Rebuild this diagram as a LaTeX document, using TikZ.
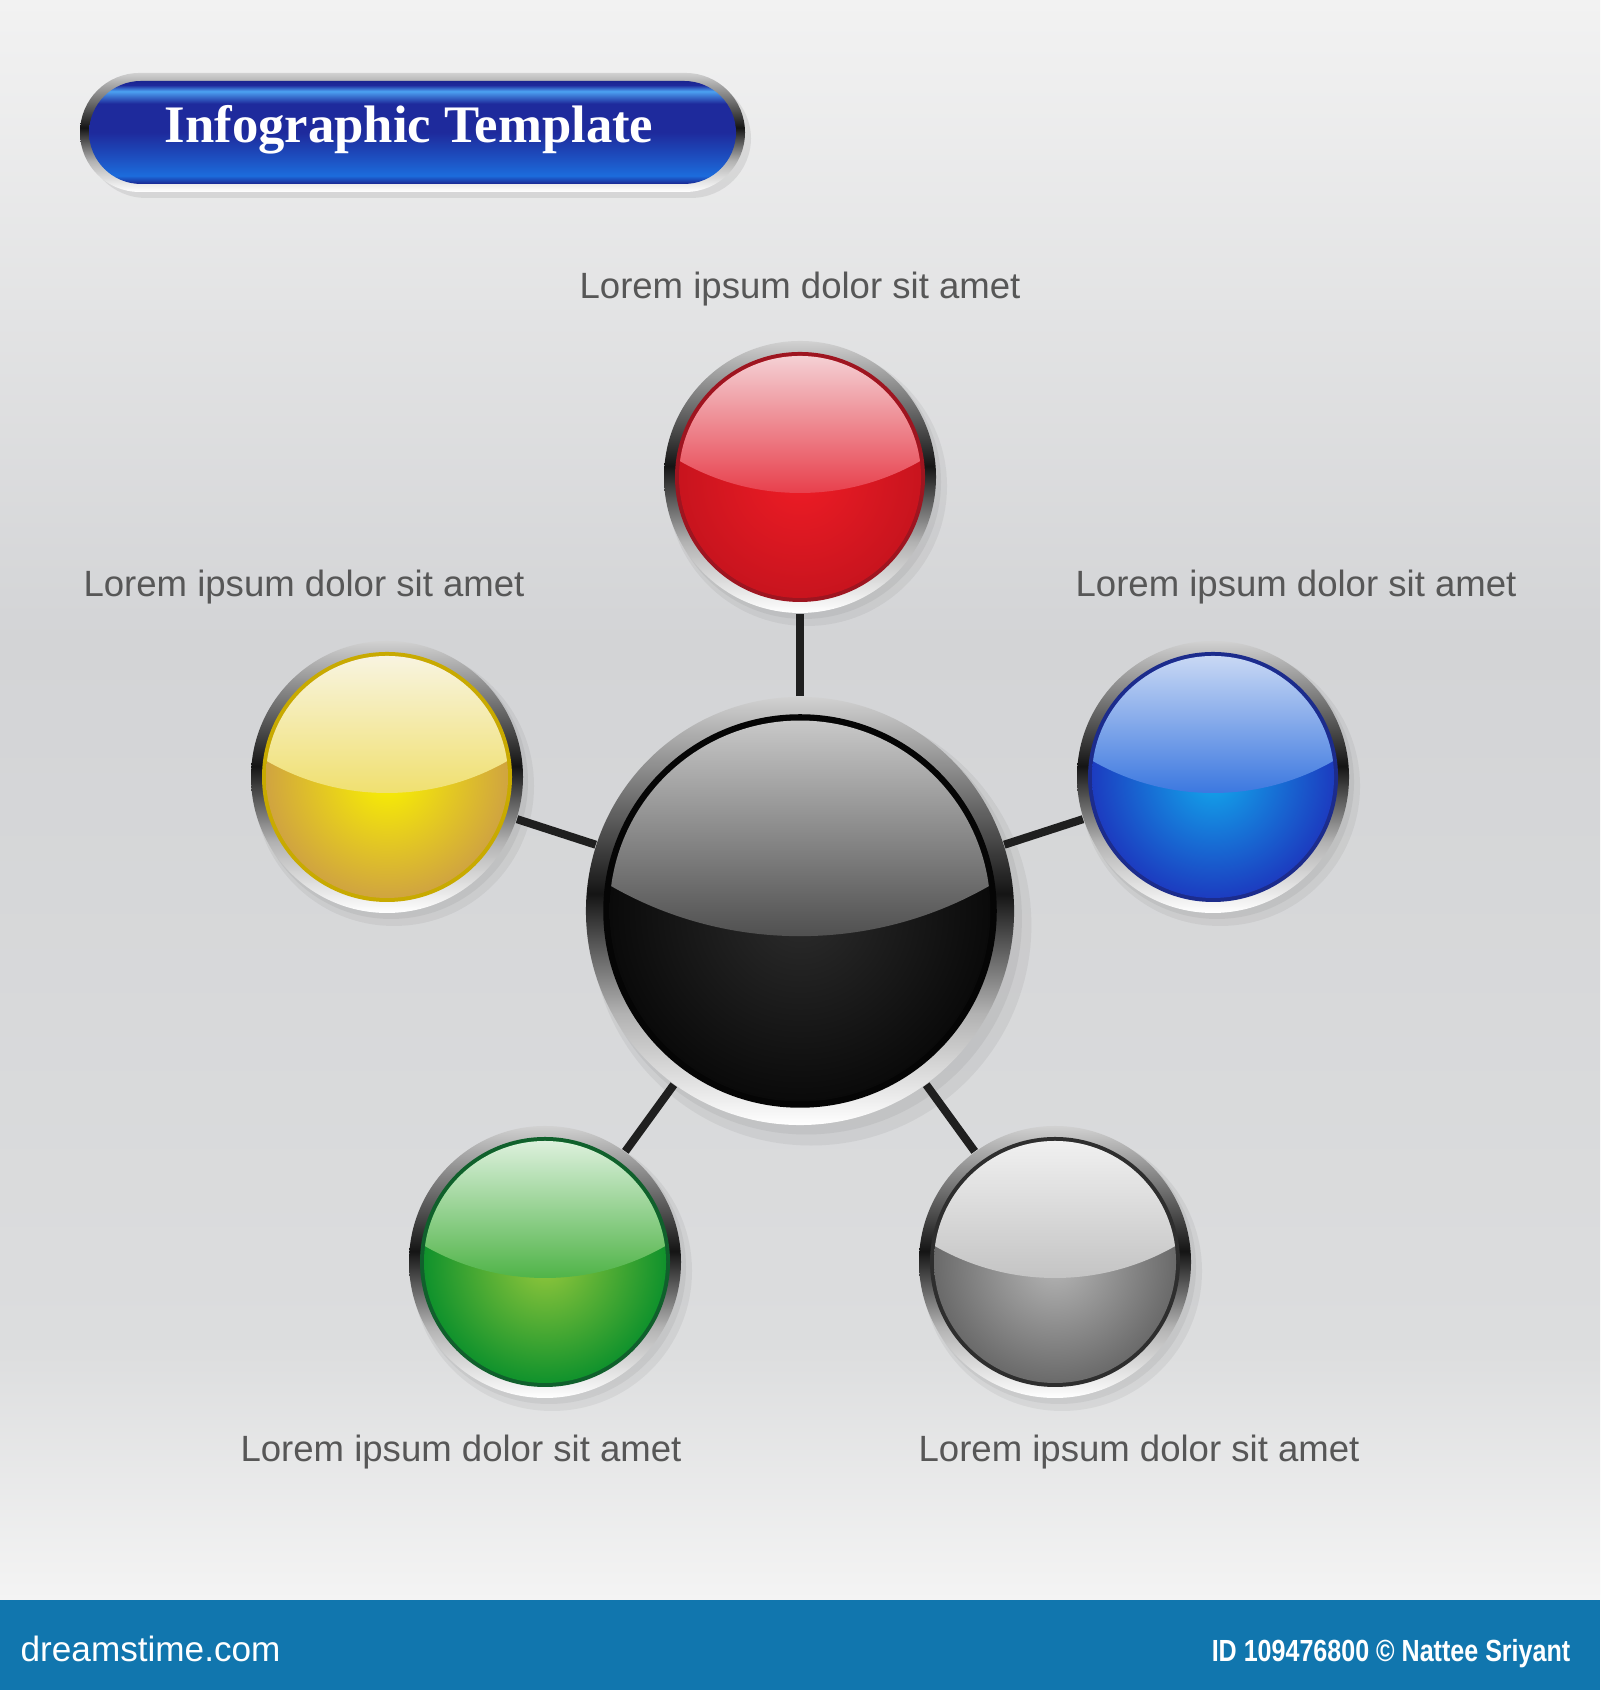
\documentclass[tikz,border=0pt]{standalone}
\usepackage{fontspec}
\setmainfont{Liberation Sans}
\newfontfamily\titlefont{Liberation Serif}
\usetikzlibrary{positioning}

% background and frame colours
\definecolor{bgtop}{HTML}{F2F2F2}
\definecolor{bgmid}{HTML}{D3D4D6}
\definecolor{bglow}{HTML}{DCDDDE}
\definecolor{bgbot}{HTML}{F4F4F4}
\definecolor{barblue}{HTML}{1176AE}
\definecolor{labelgray}{HTML}{575757}
\definecolor{pilledge}{HTML}{1A2590}
\definecolor{pillhi}{HTML}{4CA2F2}
\definecolor{pilldark}{HTML}{1E2A9C}
\definecolor{pilllow}{HTML}{1C6CDC}

% ball colours: rim, highlight top/bottom, body inner/outer
\definecolor{rimhub}{HTML}{050505}
\definecolor{hitophub}{HTML}{C8C8C8}
\definecolor{hibothub}{HTML}{505050}
\definecolor{inhub}{HTML}{2C2C2C}
\definecolor{outhub}{HTML}{0A0A0A}
\definecolor{rimred}{HTML}{9E1520}
\definecolor{hitopred}{HTML}{F4D0D4}
\definecolor{hibotred}{HTML}{E8404C}
\definecolor{inred}{HTML}{EE1C25}
\definecolor{outred}{HTML}{C8141E}
\definecolor{rimblue}{HTML}{1C2C8C}
\definecolor{hitopblue}{HTML}{C8D8F4}
\definecolor{hibotblue}{HTML}{3C78E0}
\definecolor{inblue}{HTML}{12A8EC}
\definecolor{outblue}{HTML}{1C3CC0}
\definecolor{rimyellow}{HTML}{C8AA00}
\definecolor{hitopyellow}{HTML}{F8F4E0}
\definecolor{hibotyellow}{HTML}{F0E070}
\definecolor{inyellow}{HTML}{FAF200}
\definecolor{outyellow}{HTML}{D0A440}
\definecolor{rimgreen}{HTML}{10602C}
\definecolor{hitopgreen}{HTML}{DCF0DC}
\definecolor{hibotgreen}{HTML}{50B448}
\definecolor{ingreen}{HTML}{94C83C}
\definecolor{outgreen}{HTML}{10922C}
\definecolor{rimgray}{HTML}{2E2E2E}
\definecolor{hitopgray}{HTML}{F0F0F0}
\definecolor{hibotgray}{HTML}{C4C4C4}
\definecolor{ingray}{HTML}{B6B6B6}
\definecolor{outgray}{HTML}{6A6A6A}

\pgfdeclareverticalshading{backdrop}{100bp}{color(0bp)=(bgbot); color(25bp)=(bgbot);
  color(33bp)=(bglow); color(55bp)=(bgmid); color(75bp)=(bgtop); color(100bp)=(bgtop)}
\pgfdeclareverticalshading{chrome}{100bp}{color(0bp)=(white); color(25bp)=(white);
  color(38bp)=(black!30); color(52bp)=(black!92); color(62bp)=(black!60);
  color(75bp)=(black!18); color(100bp)=(black!18)}
\pgfdeclareverticalshading{pillblue}{100bp}{color(0bp)=(pilledge); color(25bp)=(pilledge);
  color(29bp)=(pilllow); color(37bp)=(pilllow!60!pilldark); color(50bp)=(pilldark);
  color(64bp)=(pilldark); color(70bp)=(pillhi); color(73bp)=(pilldark);
  color(75bp)=(pilledge); color(100bp)=(pilledge)}

\tikzset{
  spot/.style={circle, inner sep=0pt},
  link/.style={line width=2.3pt, draw=black!88},
  caption/.style={anchor=base, text=labelgray, font=\fontsize{10.4}{12}\selectfont},
  credit/.style={text=white, inner sep=0pt, font=\fontsize{10}{12}\selectfont},
}

\begin{document}
\begin{tikzpicture}
    \useasboundingbox (0,0) rectangle (16,16.9);

    % Backdrop and credit bar
    \shade[shading=backdrop] (0,0.9) rectangle (16,16.9);
    \fill[barblue] (0,0) rectangle (16,0.9);
    \node[credit, anchor=base west] (site) at (0.20,0.28) {dreamstime.com};
    \node[credit, anchor=base east, font=\bfseries\fontsize{8.7}{10}\selectfont]
         (owner) at (15.71,0.28) {\scalebox{0.82}[1]{ID 109476800 © Nattee Sriyant}};

    % Title
    \fill[black, opacity=0.08] (0.86,14.92) [rounded corners=0.6cm] rectangle (7.51,16.11);
    \shade[shading=chrome, rounded corners=0.595cm] (0.80,14.98) rectangle (7.45,16.17);
    \shade[shading=pillblue, rounded corners=0.52cm] (0.89,15.06) rectangle (7.36,16.09);
    \node[anchor=base, text=white, font=\titlefont\bfseries\fontsize{15}{18}\selectfont]
         (title) at (4.09,15.47) {Infographic Template};

    % Balls
    \foreach \col/\x/\y/\sz in {hub/8.00/7.79/1.574, red/8.00/12.13/1,
                                blue/12.13/9.13/1, yellow/3.87/9.13/1,
                                green/5.45/4.28/1, gray/10.55/4.28/1} {
      \node[spot, minimum size=\sz*2.72cm] (\col) at (\x,\y) {};
      \begin{scope}[shift={(\x,\y)}, scale=\sz]
        \fill[black, opacity=0.05] (0.07,-0.09) circle (1.40);
        \fill[black, opacity=0.05] (0.04,-0.05) circle (1.37);
        \shade[shading=chrome] (0,0) circle (1.36);
        \fill[rim\col] (0,0) circle (1.25);
        \shade[inner color=in\col, outer color=out\col] (0,0) circle (1.21);
        \begin{scope}
          \clip (0,0) circle (1.21);
          \clip (0,2.26) circle (2.42);
          \shade[top color=hitop\col, bottom color=hibot\col] (-1.21,-0.16) rectangle (1.21,1.21);
        \end{scope}
      \end{scope}
    }

    % Connections
    \foreach \col in {red, blue, yellow, green, gray}
      \draw[link] (hub) -- (\col);

    % Captions
    \node[caption] (cap-red) at (8.00,13.91) {Lorem ipsum dolor sit amet};
    \node[caption] (cap-yellow) at (3.04,10.93) {Lorem ipsum dolor sit amet};
    \node[caption] (cap-blue) at (12.96,10.93) {Lorem ipsum dolor sit amet};
    \node[caption] (cap-green) at (4.61,2.28) {Lorem ipsum dolor sit amet};
    \node[caption] (cap-gray) at (11.39,2.28) {Lorem ipsum dolor sit amet};
\end{tikzpicture}
\end{document}
